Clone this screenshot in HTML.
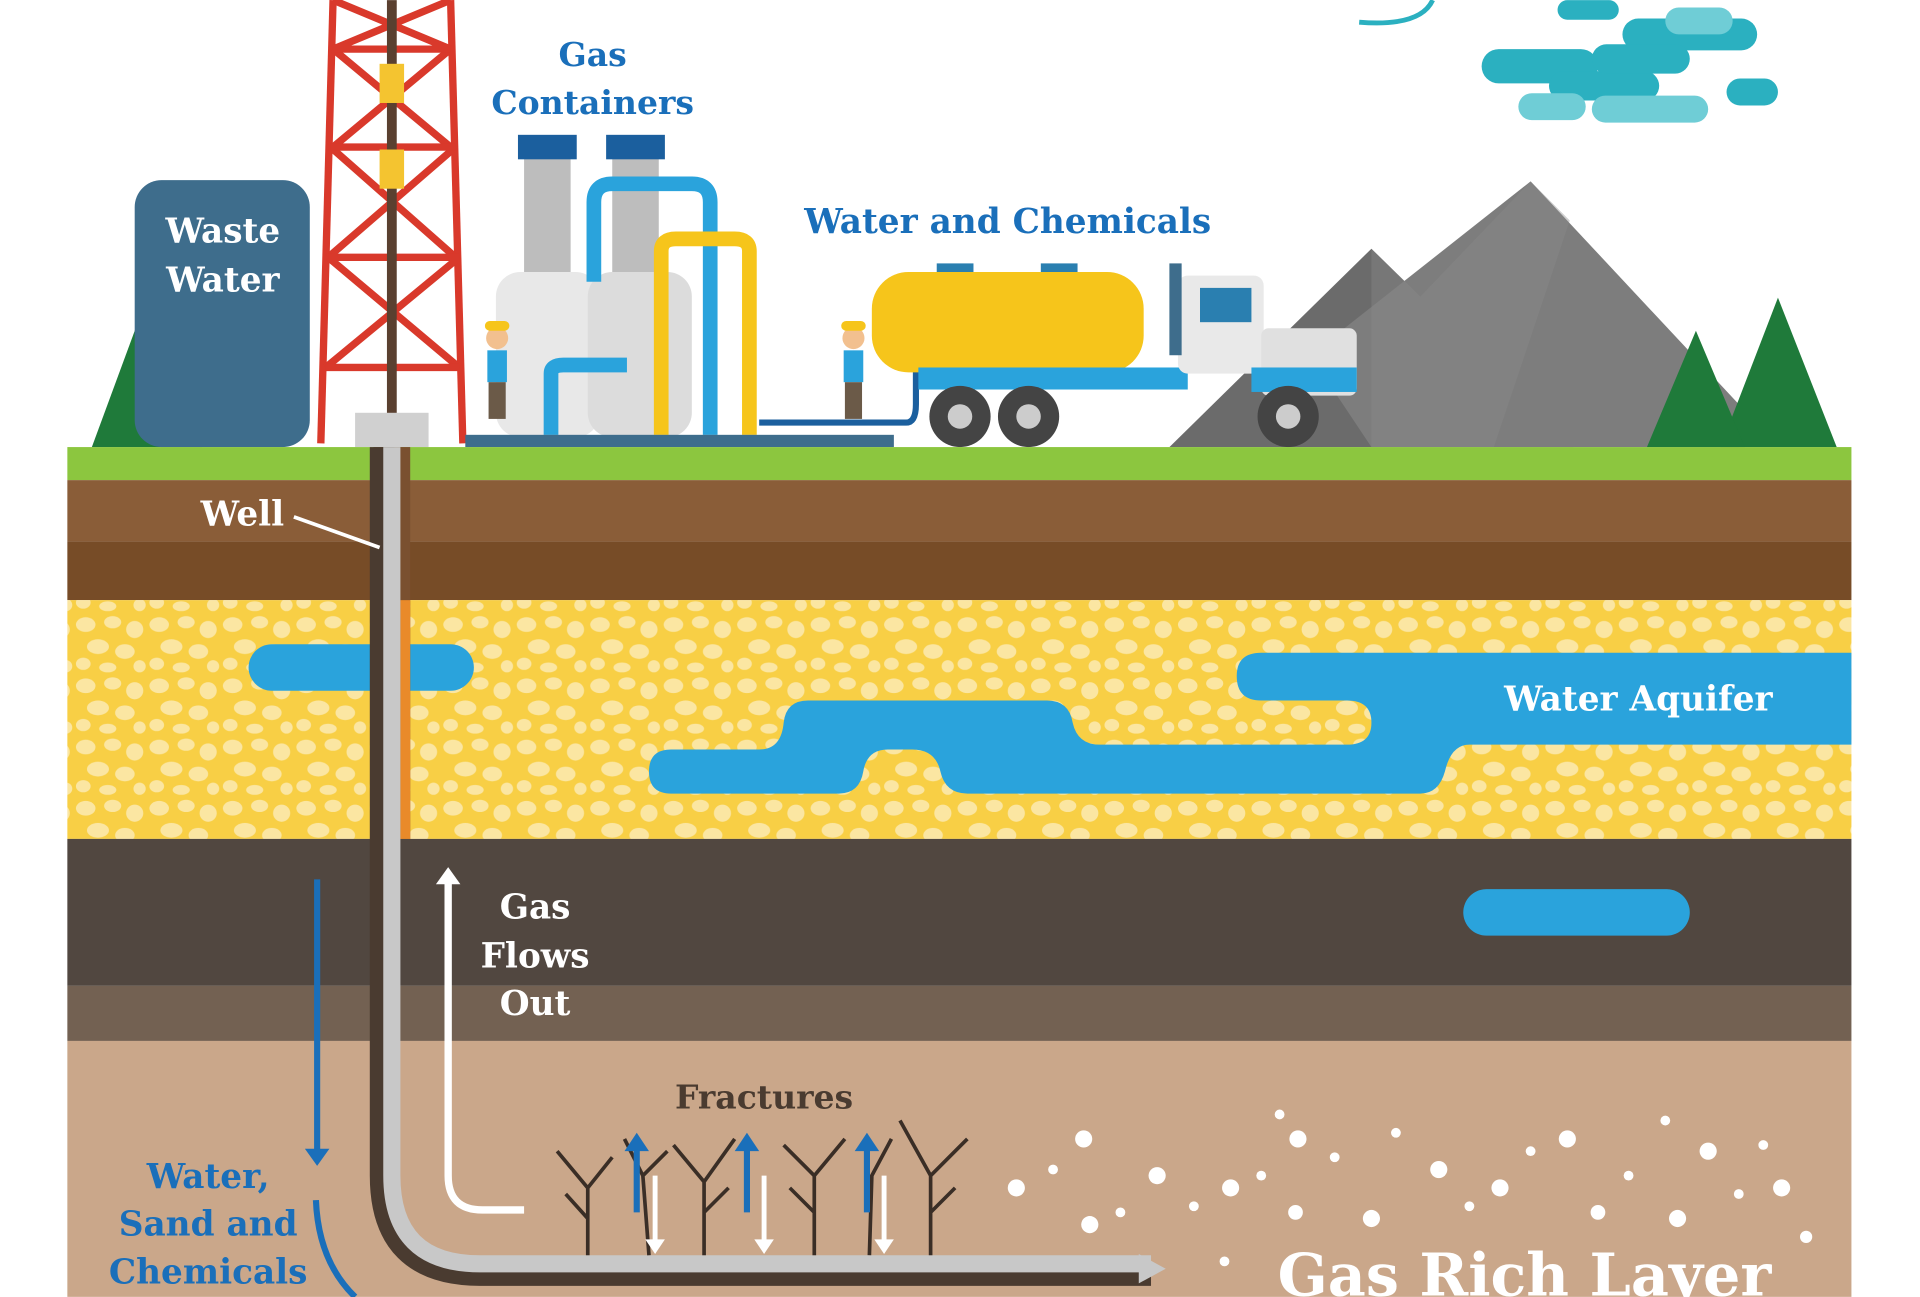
<!DOCTYPE html>
<html><head><meta charset="utf-8"><style>
html,body{margin:0;padding:0;background:#fff;}
svg{display:block;}
text{font-family:"DejaVu Serif","Liberation Serif",serif;font-weight:bold;}
</style></head><body>
<svg width="1920" height="1297" viewBox="0 0 1568 1059" xmlns="http://www.w3.org/2000/svg">
<defs>
<pattern id="peb" width="60" height="50" patternUnits="userSpaceOnUse">
<rect width="60" height="50" fill="#f8cf45"/>
<ellipse cx="10" cy="10" rx="8" ry="6" fill="#fbe6a2"/>
<ellipse cx="32" cy="8" rx="7" ry="5" fill="#fbe6a2"/>
<ellipse cx="50" cy="14" rx="7" ry="7" fill="#fbe6a2"/>
<ellipse cx="20" cy="28" rx="9" ry="6" fill="#fbe6a2"/>
<ellipse cx="42" cy="32" rx="8" ry="6" fill="#fbe6a2"/>
<ellipse cx="8" cy="42" rx="6" ry="5" fill="#fbe6a2"/>
<ellipse cx="28" cy="45" rx="7" ry="4" fill="#fbe6a2"/>
<ellipse cx="54" cy="44" rx="5" ry="5" fill="#fbe6a2"/>
</pattern>
</defs>
<rect width="1568" height="1059" fill="#fff"/>
<g fill="#2bb0c0">
<rect x="1210" y="40" width="95" height="28" rx="14"/>
<rect x="1265" y="58" width="90" height="24" rx="12"/>
<rect x="1325" y="15" width="110" height="26" rx="13"/>
<rect x="1300" y="36" width="80" height="24" rx="12"/>
<rect x="1410" y="64" width="42" height="22" rx="11"/>
<rect x="1272" y="0" width="50" height="16" rx="8"/>
</g>
<g fill="#6fcdd6">
<rect x="1240" y="76" width="55" height="22" rx="11"/>
<rect x="1300" y="78" width="95" height="22" rx="11"/>
<rect x="1360" y="6" width="55" height="22" rx="11"/>
</g>
<path d="M1110 18 Q1160 22 1170 0" stroke="#2bb0c0" stroke-width="4" fill="none"/>
<polygon points="955,365 1120,203 1285,365" fill="#6b6b6b"/>
<polygon points="1070,290 1250,148 1420,330 1420,365 1120,365" fill="#7d7d7d"/>
<polygon points="1120,203 1160,242 1250,148 1282,180 1220,365 1120,365" fill="#8a8a8a" opacity="0.4"/>
<g fill="#1f7a3a">
<polygon points="120,243 75,365 165,365"/>
<polygon points="1452,243 1405,365 1500,365"/>
<polygon points="1385,270 1345,365 1425,365"/>
</g>
<rect x="110" y="147" width="143" height="218" rx="22" fill="#3e6d8c"/>
<text x="182" y="198" font-size="28" fill="#fff" text-anchor="middle">Waste</text>
<text x="182" y="238" font-size="28" fill="#fff" text-anchor="middle">Water</text>
<g stroke="#d9392b" stroke-width="6" fill="none">
<line x1="272" y1="0" x2="262" y2="362"/>
<line x1="368" y1="0" x2="378" y2="362"/>
<path d="M272 40 L368 120 M368 40 L272 120 M270 120 L372 210 M372 120 L268 210 M268 210 L375 300 M375 210 L266 300 M272 0 L368 40 M368 0 L272 40"/>
<line x1="272" y1="40" x2="368" y2="40"/><line x1="270" y1="120" x2="372" y2="120"/><line x1="268" y1="210" x2="375" y2="210"/><line x1="266" y1="300" x2="375" y2="300"/>
</g>
<rect x="316" y="0" width="8" height="340" fill="#5a4030"/>
<rect x="310" y="52" width="20" height="32" fill="#f4c430"/>
<rect x="310" y="122" width="20" height="32" fill="#f4c430"/>
<rect x="290" y="337" width="60" height="28" fill="#d0d0d0"/>
<rect x="428" y="125" width="38" height="110" fill="#bdbdbd"/>
<rect x="500" y="125" width="38" height="110" fill="#bdbdbd"/>
<rect x="423" y="110" width="48" height="20" fill="#1b5f9e"/>
<rect x="495" y="110" width="48" height="20" fill="#1b5f9e"/>
<rect x="405" y="222" width="85" height="135" rx="20" fill="#e8e8e8"/>
<rect x="480" y="222" width="85" height="135" rx="20" fill="#dcdcdc"/>
<path d="M485 230 L485 165 Q485 150 500 150 L565 150 Q580 150 580 165 L580 355" stroke="#2aa3dc" stroke-width="12" fill="none"/>
<path d="M540 355 L540 205 Q540 195 552 195 L600 195 Q612 195 612 205 L612 355" stroke="#f6c51b" stroke-width="12" fill="none"/>
<path d="M450 355 L450 305 Q450 298 460 298 L512 298" stroke="#2aa3dc" stroke-width="12" fill="none"/>
<rect x="380" y="355" width="350" height="10" fill="#3e6d8c"/>
<text x="484" y="54" font-size="27" fill="#1a6fba" text-anchor="middle">Gas</text>
<text x="484" y="93" font-size="27" fill="#1a6fba" text-anchor="middle">Containers</text>
<g>
<circle cx="406" cy="276" r="9" fill="#f2c08f"/><rect x="396" y="262" width="20" height="8" rx="4" fill="#f6c51b"/>
<rect x="398" y="286" width="16" height="26" fill="#2aa3dc"/><rect x="399" y="312" width="14" height="30" fill="#6b5a48"/>
<circle cx="697" cy="276" r="9" fill="#f2c08f"/><rect x="687" y="262" width="20" height="8" rx="4" fill="#f6c51b"/>
<rect x="689" y="286" width="16" height="26" fill="#2aa3dc"/><rect x="690" y="312" width="14" height="30" fill="#6b5a48"/>
</g>
<path d="M620 345 L740 345 Q748 345 748 330 L748 292" stroke="#1b5f9e" stroke-width="5" fill="none"/>
<text x="823" y="190" font-size="28" fill="#1a6fba" text-anchor="middle">Water and Chemicals</text>
<rect x="765" y="215" width="30" height="10" fill="#2a7fb0"/><rect x="850" y="215" width="30" height="10" fill="#2a7fb0"/>
<rect x="712" y="222" width="222" height="82" rx="30" fill="#f6c51b"/>
<rect x="750" y="300" width="220" height="18" fill="#2aa3dc"/>
<rect x="962" y="225" width="70" height="80" rx="8" fill="#e9e9e9"/>
<rect x="980" y="235" width="42" height="28" fill="#2a7fb0"/>
<rect x="1030" y="268" width="78" height="55" rx="6" fill="#e0e0e0"/>
<rect x="1022" y="300" width="86" height="20" fill="#2aa3dc"/>
<rect x="955" y="215" width="10" height="75" fill="#3e6d8c"/>
<g fill="#444"><circle cx="784" cy="340" r="25"/><circle cx="840" cy="340" r="25"/><circle cx="1052" cy="340" r="25"/></g>
<g fill="#ccc"><circle cx="784" cy="340" r="10"/><circle cx="840" cy="340" r="10"/><circle cx="1052" cy="340" r="10"/></g>
<rect x="55" y="365" width="1457" height="27" fill="#8cc63f"/>
<rect x="55" y="392" width="1457" height="50" fill="#8a5d38"/>
<rect x="55" y="442" width="1457" height="48" fill="#774c27"/>
<rect x="55" y="490" width="1457" height="195" fill="url(#peb)"/>
<rect x="55" y="685" width="1457" height="120" fill="#514740"/>
<rect x="55" y="805" width="1457" height="45" fill="#736152"/>
<rect x="55" y="850" width="1457" height="209" fill="#caa78a"/>
<g fill="#2aa3dc">
<rect x="203" y="526" width="184" height="38" rx="19"/>
<path d="M1030 533 L1512 533 L1512 608 L1200 608 Q1185 608 1180 630 Q1175 648 1160 648 L790 648 Q772 648 768 630 Q764 612 745 612 L725 612 Q708 612 705 630 Q702 648 685 648 L548 648 Q530 648 530 630 Q530 612 548 612 L620 612 Q638 612 640 590 Q642 572 660 572 L855 572 Q873 572 876 590 Q880 608 898 608 L1100 608 Q1120 608 1120 590 Q1120 572 1100 572 L1030 572 Q1010 572 1010 552 Q1010 533 1030 533 Z"/>
<rect x="1195" y="726" width="185" height="38" rx="19"/>
</g>
<text x="1338" y="580" font-size="28" fill="#fff" text-anchor="middle">Water Aquifer</text>
<rect x="305" y="365" width="30" height="320" fill="#7a5030"/>
<rect x="327" y="490" width="8" height="195" fill="#e98a2a"/>
<rect x="305" y="490" width="8" height="195" fill="#e98a2a"/>
<path d="M312 365 L312 960 Q312 1040 392 1040 L940 1040" stroke="#4a3b30" stroke-width="20" fill="none"/>
<path d="M320 365 L320 960 Q320 1032 392 1032 L940 1032" stroke="#c8c8c8" stroke-width="14" fill="none"/>
<polygon points="930,1024 952,1036 930,1048" fill="#c8c8c8"/>
<text x="198" y="429" font-size="28" fill="#fff" text-anchor="middle">Well</text>
<line x1="240" y1="422" x2="310" y2="447" stroke="#fff" stroke-width="3"/>
<path d="M366 720 L366 960 Q366 988 394 988 L428 988" stroke="#fff" stroke-width="6" fill="none"/>
<polygon points="356,722 366,708 376,722" fill="#fff"/>
<text x="437" y="750" font-size="28" fill="#fff" text-anchor="middle">Gas</text>
<text x="437" y="790" font-size="28" fill="#fff" text-anchor="middle">Flows</text>
<text x="437" y="829" font-size="28" fill="#fff" text-anchor="middle">Out</text>
<line x1="259" y1="718" x2="259" y2="940" stroke="#1a6fba" stroke-width="5"/>
<polygon points="249,938 259,952 269,938" fill="#1a6fba"/>
<path d="M258 980 Q260 1030 290 1059" stroke="#1a6fba" stroke-width="5" fill="none"/>
<text x="170" y="970" font-size="28" fill="#1a6fba" text-anchor="middle">Water,</text>
<text x="170" y="1009" font-size="28" fill="#1a6fba" text-anchor="middle">Sand and</text>
<text x="170" y="1048" font-size="28" fill="#1a6fba" text-anchor="middle">Chemicals</text>
<text x="624" y="905" font-size="27" fill="#4a3b30" text-anchor="middle">Fractures</text>
<g stroke="#3a2e26" stroke-width="3" fill="none">
<path d="M480 1025 L480 970 L455 940 M480 970 L500 945 M480 995 L462 975"/>
<path d="M575 1025 L575 965 L550 935 M575 965 L600 930 M575 990 L595 970"/>
<path d="M665 1025 L665 960 L640 935 M665 960 L690 930 M665 990 L645 970"/>
<path d="M760 1025 L760 960 L735 915 M760 960 L790 930 M760 990 L780 970"/>
<path d="M530 1025 L525 960 L510 930 M525 960 L545 940"/>
<path d="M710 1025 L712 960 L728 930"/>
</g>
<g stroke="#1a6fba" stroke-width="5">
<line x1="520" y1="990" x2="520" y2="935"/><line x1="610" y1="990" x2="610" y2="935"/><line x1="708" y1="990" x2="708" y2="935"/>
</g>
<g fill="#1a6fba"><polygon points="510,940 520,925 530,940"/><polygon points="600,940 610,925 620,940"/><polygon points="698,940 708,925 718,940"/></g>
<g stroke="#fff" stroke-width="4"><line x1="535" y1="960" x2="535" y2="1015"/><line x1="624" y1="960" x2="624" y2="1015"/><line x1="722" y1="960" x2="722" y2="1015"/></g>
<g fill="#fff"><polygon points="527,1012 535,1024 543,1012"/><polygon points="616,1012 624,1024 632,1012"/><polygon points="714,1012 722,1024 730,1012"/></g>
<g fill="#fff">
<circle cx="830" cy="970" r="7"/><circle cx="885" cy="930" r="7"/><circle cx="890" cy="1000" r="7"/><circle cx="945" cy="960" r="7"/><circle cx="1005" cy="970" r="7"/><circle cx="1060" cy="930" r="7"/><circle cx="1058" cy="990" r="6"/><circle cx="1120" cy="995" r="7"/><circle cx="1175" cy="955" r="7"/><circle cx="1225" cy="970" r="7"/><circle cx="1280" cy="930" r="7"/><circle cx="1305" cy="990" r="6"/><circle cx="1370" cy="995" r="7"/><circle cx="1395" cy="940" r="7"/><circle cx="1455" cy="970" r="7"/><circle cx="1475" cy="1010" r="5"/>
<circle cx="860" cy="955" r="4"/><circle cx="915" cy="990" r="4"/><circle cx="975" cy="985" r="4"/><circle cx="1030" cy="960" r="4"/><circle cx="1090" cy="945" r="4"/><circle cx="1140" cy="925" r="4"/><circle cx="1200" cy="985" r="4"/><circle cx="1250" cy="940" r="4"/><circle cx="1330" cy="960" r="4"/><circle cx="1420" cy="975" r="4"/><circle cx="1440" cy="935" r="4"/><circle cx="1000" cy="1030" r="4"/><circle cx="1045" cy="910" r="4"/><circle cx="1360" cy="915" r="4"/>
</g>
<text x="1245" y="1058" font-size="48" fill="#fff" text-anchor="middle">Gas Rich Layer</text>
</svg>
</body></html>
